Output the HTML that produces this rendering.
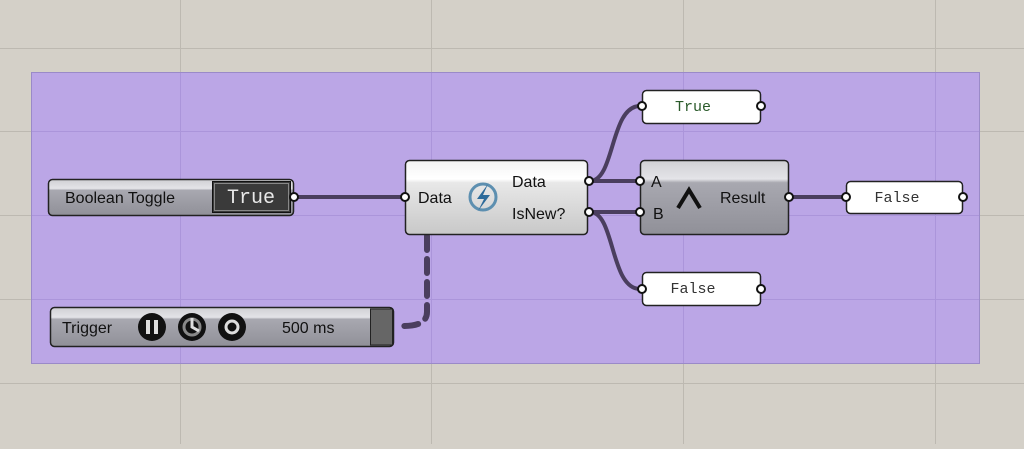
<!DOCTYPE html>
<html><head><style>
body{margin:0;width:1024px;height:444px;overflow:hidden;background:#d4d0c8;font-family:"Liberation Sans",sans-serif}
</style></head><body>
<svg width="1024" height="444" xmlns="http://www.w3.org/2000/svg">
<defs>
<linearGradient id="gw" x1="0" y1="0" x2="0" y2="1"><stop offset="0" stop-color="#f4f4f4"/><stop offset="0.25" stop-color="#fff"/><stop offset="0.3" stop-color="#e8e8e8"/><stop offset="1" stop-color="#c8c8c8"/></linearGradient>
<linearGradient id="gg" x1="0" y1="0" x2="0" y2="1"><stop offset="0" stop-color="#d0d0d4"/><stop offset="0.25" stop-color="#e4e4e8"/><stop offset="0.3" stop-color="#a8a8b0"/><stop offset="1" stop-color="#909098"/></linearGradient>
</defs>
<g stroke="#bdb9b1" stroke-width="1">
<line x1="180.5" y1="0" x2="180.5" y2="444"/><line x1="431.5" y1="0" x2="431.5" y2="444"/><line x1="683.5" y1="0" x2="683.5" y2="444"/><line x1="935.5" y1="0" x2="935.5" y2="444"/>
<line x1="0" y1="48.5" x2="1024" y2="48.5"/><line x1="0" y1="131.5" x2="1024" y2="131.5"/><line x1="0" y1="215.5" x2="1024" y2="215.5"/><line x1="0" y1="299.5" x2="1024" y2="299.5"/><line x1="0" y1="383.5" x2="1024" y2="383.5"/>
</g>
<rect x="31.5" y="72.5" width="948" height="291" fill="#b9a3e8" fill-opacity="0.95" stroke="#9a8ac8"/>
<g stroke="#ab95da" stroke-width="1">
<line x1="180.5" y1="73" x2="180.5" y2="363"/><line x1="431.5" y1="73" x2="431.5" y2="363"/><line x1="683.5" y1="73" x2="683.5" y2="363"/><line x1="935.5" y1="73" x2="935.5" y2="363"/>
<line x1="32" y1="131.5" x2="979" y2="131.5"/><line x1="32" y1="215.5" x2="979" y2="215.5"/><line x1="32" y1="299.5" x2="979" y2="299.5"/>
</g>
<!-- wires -->
<g stroke="#4a3e5e" stroke-width="4" fill="none">
<line x1="295" y1="197" x2="403" y2="197"/>
<path d="M590 181 C615 181 610 106 640 106"/>
<line x1="590" y1="181" x2="638" y2="181"/>
<line x1="590" y1="212" x2="638" y2="212"/>
<path d="M590 212 C615 212 610 289 640 289"/>
<line x1="790" y1="197" x2="844" y2="197"/>
<path d="M427 236 L427 312 Q427 326 404 326" stroke-width="6" stroke-dasharray="14 9" stroke-linecap="round"/>
</g>
<!-- Boolean toggle -->
<rect x="48.5" y="179.5" width="245" height="36" rx="4" fill="url(#gg)" stroke="#222" stroke-width="1.5"/>
<text x="65" y="203" font-size="16" fill="#111">Boolean Toggle</text>
<rect x="212.5" y="181.5" width="78" height="31" fill="#3a3a3a" stroke="#111"/>
<rect x="214.5" y="183.5" width="74" height="27" fill="none" stroke="#888"/>
<text x="251" y="203" font-size="20" fill="#e8e8e8" font-family="Liberation Mono" text-anchor="middle">True</text>
<!-- Trigger -->
<rect x="50.5" y="307.5" width="343" height="39" rx="4" fill="url(#gg)" stroke="#222" stroke-width="1.5"/>
<rect x="370.5" y="309" width="22" height="36" fill="#666" stroke="#222"/>
<text x="62" y="333" font-size="16" fill="#111">Trigger</text>
<circle cx="152" cy="327" r="14" fill="#111"/><rect x="146" y="320" width="4" height="14" fill="#ddd"/><rect x="154" y="320" width="4" height="14" fill="#ddd"/>
<circle cx="192" cy="327" r="14" fill="#111"/><circle cx="192" cy="327" r="8" fill="none" stroke="#888" stroke-width="3"/><path d="M192 318 L192 327 L199 331" stroke="#ddd" stroke-width="3" fill="none"/>
<circle cx="232" cy="327" r="14" fill="#111"/><circle cx="232" cy="327" r="6" fill="none" stroke="#ddd" stroke-width="3"/>
<text x="282" y="333" font-size="16" fill="#111">500 ms</text>
<!-- Data dam -->
<rect x="405.5" y="160.5" width="182" height="74" rx="4" fill="url(#gw)" stroke="#222" stroke-width="1.5"/>
<text x="418" y="203" font-size="16" fill="#111">Data</text>
<text x="512" y="187" font-size="16" fill="#111">Data</text>
<text x="512" y="219" font-size="16" fill="#111">IsNew?</text>
<circle cx="483" cy="197" r="13" fill="none" stroke="#5d8fb0" stroke-width="3"/>
<path d="M488 184 L477 199 L484 199 L478 211 L490 195 L483 195 Z" fill="#2c6a9a"/>
<!-- And -->
<rect x="640.5" y="160.5" width="148" height="74" rx="4" fill="url(#gg)" stroke="#222" stroke-width="1.5"/>
<text x="651" y="187" font-size="16" fill="#111">A</text>
<text x="653" y="219" font-size="16" fill="#111">B</text>
<path d="M678 208 L689 190 L700 208" stroke="#111" stroke-width="4" fill="none"/>
<text x="720" y="203" font-size="16" fill="#111">Result</text>
<!-- panels -->
<rect x="642.5" y="90.5" width="118" height="33" rx="4" fill="#fff" stroke="#222" stroke-width="1.5"/>
<text x="693" y="111" font-size="15" fill="#2a5a2a" font-family="Liberation Mono" text-anchor="middle">True</text>
<rect x="846.5" y="181.5" width="116" height="32" rx="4" fill="#fff" stroke="#222" stroke-width="1.5"/>
<text x="897" y="202" font-size="15" fill="#333" font-family="Liberation Mono" text-anchor="middle">False</text>
<rect x="642.5" y="272.5" width="118" height="33" rx="4" fill="#fff" stroke="#222" stroke-width="1.5"/>
<text x="693" y="293" font-size="15" fill="#333" font-family="Liberation Mono" text-anchor="middle">False</text>
<!-- ports -->
<g fill="#fff" stroke="#111" stroke-width="2">
<circle cx="294" cy="197" r="4"/><circle cx="405" cy="197" r="4"/>
<circle cx="589" cy="181" r="4"/><circle cx="589" cy="212" r="4"/>
<circle cx="640" cy="181" r="4"/><circle cx="640" cy="212" r="4"/>
<circle cx="789" cy="197" r="4"/><circle cx="846" cy="197" r="4"/><circle cx="963" cy="197" r="4"/>
<circle cx="642" cy="106" r="4"/><circle cx="761" cy="106" r="4"/>
<circle cx="642" cy="289" r="4"/><circle cx="761" cy="289" r="4"/>
</g>
</svg>
</body></html>
